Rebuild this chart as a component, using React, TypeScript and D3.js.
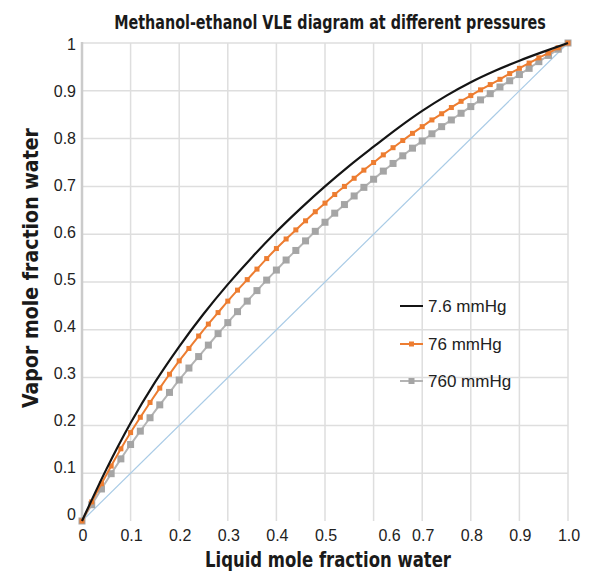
import React, { useLayoutEffect, useRef } from 'react';
import * as d3 from 'd3';

// liquid mole fraction grid for the marked series (step 0.02)
const xMarked = [
  0, 0.02, 0.04, 0.06, 0.08, 0.1, 0.12, 0.14, 0.16, 0.18, 0.2, 0.22, 0.24, 0.26, 0.28, 0.3, 0.32,
  0.34, 0.36, 0.38, 0.4, 0.42, 0.44, 0.46, 0.48, 0.5, 0.52, 0.54, 0.56, 0.58, 0.6, 0.62, 0.64,
  0.66, 0.68, 0.7, 0.72, 0.74, 0.76, 0.78, 0.8, 0.82, 0.84, 0.86, 0.88, 0.9, 0.92, 0.94, 0.96,
  0.98, 1,
];

const y76 = [
  0, 0.04, 0.078, 0.115, 0.151, 0.185, 0.217, 0.248, 0.278, 0.307, 0.335, 0.361, 0.387, 0.412,
  0.436, 0.46, 0.483, 0.505, 0.527, 0.549, 0.57, 0.59, 0.609, 0.628, 0.647, 0.665, 0.683, 0.7,
  0.717, 0.734, 0.75, 0.766, 0.781, 0.796, 0.811, 0.825, 0.839, 0.852, 0.865, 0.878, 0.89, 0.902,
  0.913, 0.924, 0.936, 0.947, 0.958, 0.969, 0.979, 0.99, 1,
];

const y760 = [
  0, 0.034, 0.067, 0.099, 0.13, 0.16, 0.188, 0.216, 0.243, 0.269, 0.295, 0.32, 0.344, 0.368,
  0.392, 0.415, 0.438, 0.46, 0.482, 0.504, 0.525, 0.546, 0.566, 0.586, 0.606, 0.625, 0.644, 0.662,
  0.68, 0.698, 0.715, 0.732, 0.748, 0.764, 0.78, 0.795, 0.81, 0.825, 0.839, 0.853, 0.867, 0.881,
  0.894, 0.908, 0.921, 0.934, 0.947, 0.961, 0.974, 0.987, 1,
];

// 7.6 mmHg curve (plain line)
const xLow = [0, 0.05, 0.1, 0.15, 0.2, 0.25, 0.3, 0.35, 0.4, 0.45, 0.5, 0.55, 0.6, 0.65, 0.7, 0.75, 0.8, 0.85, 0.9, 0.95, 1];
const y7_6 = [0, 0.108, 0.205, 0.29, 0.365, 0.433, 0.495, 0.552, 0.605, 0.654, 0.7, 0.743, 0.783, 0.822, 0.858, 0.89, 0.918, 0.942, 0.963, 0.982, 1];

const xTicks = [0, 0.1, 0.2, 0.3, 0.4, 0.5, 0.6, 0.7, 0.8, 0.9, 1];
const xTickLabels = ['0', '0.1', '0.2', '0.3', '0.4', '0.5', '0.6', '0.7', '0.8', '0.9', '1.0'];
const yTicks = [0, 0.1, 0.2, 0.3, 0.4, 0.5, 0.6, 0.7, 0.8, 0.9, 1];
const yTickLabels = ['0', '0.1', '0.2', '0.3', '0.4', '0.5', '0.6', '0.7', '0.8', '0.9', '1'];

const legendNames = ['7.6 mmHg', '76 mmHg', '760 mmHg'];

const ORANGE = '#ed7d31';
const GRAY = '#a5a5a5';
const BLACK = '#141414';
const FONT = "'Liberation Sans Narrow', 'DejaVu Sans Condensed', 'Liberation Sans', sans-serif";
const TICKFONT = "'Liberation Sans', Arial, sans-serif";

type Pt = [number, number];

export default function App() {
  const width = 600;
  const height = 576;
  const titleRef = useRef<SVGTextElement>(null);

  const x = d3.scaleLinear().domain([0, 1]).range([82, 568]);
  const y = d3.scaleLinear().domain([0, 1]).range([521, 43]);
  // tick labels in the original sit on a slightly tighter scale
  const yLab = d3.scaleLinear().domain([0, 1]).range([514, 44]);

  // squeeze the title horizontally to the width it has in the original
  useLayoutEffect(() => {
    const el = titleRef.current;
    if (!el) return;
    const w = el.getComputedTextLength();
    const k = Math.min(1, 432 / w);
    el.setAttribute('transform', `translate(330,29) scale(${k},1)`);
  }, []);

  const line = d3
    .line<Pt>()
    .x((d) => x(d[0]))
    .y((d) => y(d[1]))
    .curve(d3.curveMonotoneX);

  const pts76: Pt[] = xMarked.map((v, i) => [v, y76[i]]);
  const pts760: Pt[] = xMarked.map((v, i) => [v, y760[i]]);
  const ptsLow: Pt[] = xLow.map((v, i) => [v, y7_6[i]]);

  const legendY = [306, 344, 381];

  return (
    <svg
      width={width}
      height={height}
      style={{ position: 'absolute', left: 0, top: 0, background: '#fff' }}
    >
      <text
        ref={titleRef}
        transform="translate(330,29)"
        textAnchor="middle"
        fontFamily={FONT}
        fontWeight="bold"
        fontSize={19}
        fill="#1a1a1a"
      >
        Methanol-ethanol VLE diagram at different pressures
      </text>

      {/* grid */}
      <g stroke="#dedede" strokeWidth={1.5}>
        {xTicks.slice(1).map((t) => (
          <line key={'vx' + t} x1={x(t)} x2={x(t)} y1={y(1)} y2={y(0)} />
        ))}
        {yTicks.slice(1).map((t) => (
          <line key={'hy' + t} x1={x(0)} x2={x(1)} y1={y(t)} y2={y(t)} />
        ))}
      </g>
      <line x1={x(0)} x2={x(0)} y1={y(1) - 1} y2={y(0)} stroke="#cbcbcb" strokeWidth={2.5} />

      {/* tick labels */}
      <g fontFamily={TICKFONT} fontSize={16} fill="#222">
        {xTicks.map((t, i) => (
          <text key={'xl' + t} x={x(t) + (t === 0.6 ? 16 : 1)} y={541} textAnchor="middle">
            {xTickLabels[i]}
          </text>
        ))}
        {yTicks.map((t, i) => (
          <text key={'yl' + t} x={76} y={yLab(t)} dy="0.35em" textAnchor="end">
            {yTickLabels[i]}
          </text>
        ))}
      </g>

      {/* diagonal */}
      <line x1={x(0)} y1={y(0)} x2={x(1)} y2={y(1)} stroke="#a9cbe6" strokeWidth={1.2} />

      {/* 760 mmHg */}
      <path d={line(pts760) ?? ''} fill="none" stroke="#b4b4b4" strokeWidth={2} />
      {pts760.map((d, i) => (
        <rect key={'g' + i} x={x(d[0]) - 3.5} y={y(d[1]) - 3.5} width={7} height={7} fill={GRAY} />
      ))}

      {/* 76 mmHg */}
      <path d={line(pts76) ?? ''} fill="none" stroke={ORANGE} strokeWidth={2} />
      {pts76.map((d, i) => (
        <rect key={'o' + i} x={x(d[0]) - 2.5} y={y(d[1]) - 2.5} width={5} height={5} fill={ORANGE} />
      ))}

      {/* 7.6 mmHg */}
      <path d={line(ptsLow) ?? ''} fill="none" stroke={BLACK} strokeWidth={2.2} />

      {/* legend */}
      {legendNames.map((name, i) => (
        <g key={name}>
          <line
            x1={400}
            x2={423}
            y1={legendY[i]}
            y2={legendY[i]}
            stroke={i === 0 ? BLACK : i === 1 ? ORANGE : '#b4b4b4'}
            strokeWidth={2}
          />
          {i > 0 && (
            <rect
              x={411.5 - (i === 1 ? 2.5 : 3)}
              y={legendY[i] - (i === 1 ? 2.5 : 3)}
              width={i === 1 ? 5 : 6}
              height={i === 1 ? 5 : 6}
              fill={i === 1 ? ORANGE : GRAY}
            />
          )}
          <text x={428} y={legendY[i]} dy="0.36em" fontFamily={TICKFONT} fontSize={17} fill="#222">
            {name}
          </text>
        </g>
      ))}

      {/* axis titles */}
      <text
        x={328}
        y={567}
        textAnchor="middle"
        fontFamily={FONT}
        fontWeight="bold"
        fontSize={21}
        fill="#1a1a1a"
        textLength={246}
        lengthAdjust="spacingAndGlyphs"
      >
        Liquid mole fraction water
      </text>
      <text
        transform="translate(38,268) rotate(-90)"
        textAnchor="middle"
        fontFamily={FONT}
        fontWeight="bold"
        fontSize={21}
        fill="#1a1a1a"
        textLength={280}
        lengthAdjust="spacingAndGlyphs"
      >
        Vapor mole fraction water
      </text>
    </svg>
  );
}
